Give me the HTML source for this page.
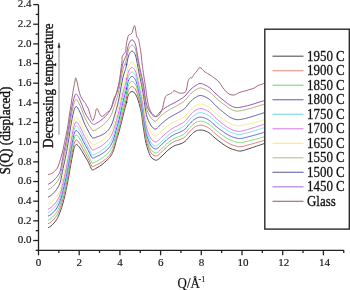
<!DOCTYPE html>
<html><head><meta charset="utf-8"><style>
html,body{margin:0;padding:0;background:#fff;width:350px;height:290px;overflow:hidden}
svg{display:block;filter:blur(0.3px)}
</style></head><body>
<svg width="350" height="290" viewBox="0 0 350 290">
<rect x="0" y="0" width="350" height="290" fill="#ffffff"/>
<g fill="none" stroke-linejoin="round" stroke-linecap="round">
<path d="M48.40,227.50 C48.83,227.25 50.07,226.75 51.00,226.00 C51.93,225.25 52.95,224.25 54.00,223.00 C55.05,221.75 56.22,220.50 57.30,218.50 C58.38,216.50 59.60,213.42 60.50,211.00 C61.40,208.58 61.97,206.58 62.70,204.00 C63.43,201.42 64.18,198.58 64.90,195.50 C65.62,192.42 66.32,188.92 67.00,185.50 C67.68,182.08 68.37,178.50 69.00,175.00 C69.63,171.50 70.20,167.83 70.80,164.50 C71.40,161.17 72.02,157.83 72.60,155.00 C73.18,152.17 73.65,149.25 74.30,147.50 C74.95,145.75 75.55,144.42 76.50,144.50 C77.45,144.58 78.92,146.58 80.00,148.00 C81.08,149.42 82.00,151.33 83.00,153.00 C84.00,154.67 85.08,156.42 86.00,158.00 C86.92,159.58 87.67,160.83 88.50,162.50 C89.33,164.17 90.33,166.75 91.00,168.00 C91.67,169.25 91.50,170.03 92.50,170.00 C93.50,169.97 95.42,168.70 97.00,167.80 C98.58,166.90 100.50,165.73 102.00,164.60 C103.50,163.47 104.72,162.20 106.00,161.00 C107.28,159.80 108.45,159.13 109.70,157.40 C110.95,155.67 112.40,153.42 113.50,150.60 C114.60,147.78 115.40,143.57 116.30,140.50 C117.20,137.43 118.05,135.20 118.90,132.20 C119.75,129.20 120.63,125.53 121.40,122.50 C122.17,119.47 122.87,116.50 123.50,114.00 C124.13,111.50 124.70,109.42 125.20,107.50 C125.70,105.58 126.03,104.42 126.50,102.50 C126.97,100.58 127.42,97.67 128.00,96.00 C128.58,94.33 129.33,93.25 130.00,92.50 C130.67,91.75 131.33,91.50 132.00,91.50 C132.67,91.50 133.33,91.92 134.00,92.50 C134.67,93.08 135.33,93.75 136.00,95.00 C136.67,96.25 137.33,98.00 138.00,100.00 C138.67,102.00 139.42,104.67 140.00,107.00 C140.58,109.33 141.00,111.00 141.50,114.00 C142.00,117.00 142.50,121.50 143.00,125.00 C143.50,128.50 144.00,132.00 144.50,135.00 C145.00,138.00 145.42,140.50 146.00,143.00 C146.58,145.50 147.17,147.67 148.00,150.00 C148.83,152.33 149.83,155.33 151.00,157.00 C152.17,158.67 153.83,159.58 155.00,160.00 C156.17,160.42 156.83,160.17 158.00,159.50 C159.17,158.83 160.67,157.25 162.00,156.00 C163.33,154.75 164.67,153.25 166.00,152.00 C167.33,150.75 168.50,149.58 170.00,148.50 C171.50,147.42 173.33,146.25 175.00,145.50 C176.67,144.75 178.33,144.67 180.00,144.00 C181.67,143.33 183.33,142.83 185.00,141.50 C186.67,140.17 188.33,137.67 190.00,136.00 C191.67,134.33 193.33,132.50 195.00,131.50 C196.67,130.50 198.33,130.12 200.00,130.00 C201.67,129.88 203.33,130.22 205.00,130.80 C206.67,131.38 208.33,132.30 210.00,133.50 C211.67,134.70 213.33,136.58 215.00,138.00 C216.67,139.42 218.33,140.75 220.00,142.00 C221.67,143.25 223.33,144.45 225.00,145.50 C226.67,146.55 228.33,147.55 230.00,148.30 C231.67,149.05 233.17,149.55 235.00,150.00 C236.83,150.45 238.33,151.33 241.00,151.00 C243.67,150.67 247.00,149.28 251.00,148.00 C255.00,146.72 262.67,144.08 265.00,143.30" stroke="#505050" stroke-width="1.0"/>
<path d="M48.4,223.5 L49.1,223.1 L49.8,222.8 L50.5,222.4 L51.2,221.8 L51.9,221.2 L52.6,220.6 L53.3,219.8 L54.0,219.1 L54.7,218.2 L55.4,217.4 L56.1,216.5 L56.8,215.5 L57.5,214.3 L58.2,212.9 L58.9,211.3 L59.6,209.6 L60.3,207.8 L61.0,205.8 L61.7,203.4 L62.4,200.9 L63.1,198.3 L63.8,195.7 L64.5,192.8 L65.2,189.8 L65.9,186.6 L66.6,183.1 L67.3,179.6 L68.0,175.9 L68.7,172.2 L69.4,168.2 L70.1,164.0 L70.8,159.9 L71.5,156.1 L72.2,152.4 L72.9,148.9 L73.6,145.5 L74.3,143.0 L75.0,141.3 L75.7,140.3 L76.4,140.0 L77.1,140.3 L77.8,140.9 L78.5,141.7 L79.2,142.7 L79.9,143.7 L80.6,144.7 L81.3,146.0 L82.0,147.3 L82.7,148.6 L83.4,149.9 L84.1,151.2 L84.8,152.4 L85.5,153.6 L86.2,154.9 L86.9,156.1 L87.6,157.4 L88.3,158.7 L89.0,160.2 L89.7,161.8 L90.4,163.3 L91.1,164.8 L91.8,166.3 L92.5,166.6 L93.2,166.4 L93.9,166.2 L94.6,165.9 L95.3,165.5 L96.0,165.1 L96.7,164.8 L97.4,164.4 L98.1,164.1 L98.8,163.7 L99.5,163.4 L100.2,163.0 L100.9,162.6 L101.6,162.2 L102.3,161.7 L103.0,161.2 L103.7,160.7 L104.4,160.1 L105.1,159.5 L105.8,158.8 L106.5,158.2 L107.2,157.7 L107.9,157.1 L108.6,156.4 L109.3,155.6 L110.0,154.6 L110.7,153.6 L111.4,152.4 L112.1,151.1 L112.8,149.7 L113.5,147.9 L114.2,145.8 L114.9,143.2 L115.6,140.3 L116.3,137.6 L117.0,135.3 L117.7,133.0 L118.4,130.7 L119.1,128.1 L119.8,125.3 L120.5,122.3 L121.2,119.4 L121.9,116.4 L122.6,113.4 L123.3,110.4 L124.0,107.7 L124.7,105.0 L125.4,102.4 L126.1,99.8 L126.8,96.7 L127.5,93.3 L128.2,90.8 L128.9,89.3 L129.6,88.2 L130.3,87.3 L131.0,86.8 L131.7,86.5 L132.4,86.5 L133.1,86.9 L133.8,87.4 L134.5,88.1 L135.2,88.9 L135.9,90.1 L136.6,91.8 L137.3,93.7 L138.0,95.9 L138.7,98.4 L139.4,101.0 L140.1,103.7 L140.8,106.7 L141.5,110.3 L142.2,115.0 L142.9,120.2 L143.6,125.0 L144.3,129.6 L145.0,133.9 L145.7,137.7 L146.4,140.7 L147.1,143.3 L147.8,145.4 L148.5,147.4 L149.2,149.2 L149.9,150.8 L150.6,152.2 L151.3,153.2 L152.0,154.0 L152.7,154.6 L153.4,155.1 L154.1,155.5 L154.8,155.8 L155.5,156.0 L156.2,156.0 L156.9,155.8 L157.6,155.4 L158.3,155.0 L159.0,154.4 L159.7,153.8 L160.4,153.1 L161.1,152.4 L161.8,151.8 L162.5,151.1 L163.2,150.4 L163.9,149.7 L164.6,149.0 L165.3,148.3 L166.0,147.7 L166.7,147.0 L167.4,146.4 L168.1,145.8 L168.8,145.2 L169.5,144.6 L170.2,144.1 L170.9,143.6 L171.6,143.2 L172.3,142.7 L173.0,142.3 L173.7,141.9 L174.4,141.6 L175.1,141.2 L175.8,140.9 L176.5,140.7 L177.2,140.5 L177.9,140.3 L178.6,140.1 L179.3,139.8 L180.0,139.6 L180.7,139.3 L181.4,139.0 L182.1,138.7 L182.8,138.3 L183.5,138.0 L184.2,137.5 L184.9,137.0 L185.6,136.4 L186.3,135.7 L187.0,134.8 L187.7,134.0 L188.4,133.1 L189.1,132.3 L189.8,131.5 L190.5,130.8 L191.2,130.1 L191.9,129.4 L192.6,128.8 L193.3,128.1 L194.0,127.5 L194.7,127.0 L195.4,126.6 L196.1,126.3 L196.8,126.0 L197.5,125.7 L198.2,125.5 L198.9,125.4 L199.6,125.3 L200.3,125.2 L201.0,125.2 L201.7,125.3 L202.4,125.4 L203.1,125.5 L203.8,125.7 L204.5,125.9 L205.2,126.2 L205.9,126.5 L206.6,126.8 L207.3,127.1 L208.0,127.5 L208.7,128.0 L209.4,128.4 L210.1,128.9 L210.8,129.5 L211.5,130.1 L212.2,130.8 L212.9,131.4 L213.6,132.1 L214.3,132.8 L215.0,133.4 L215.7,134.0 L216.4,134.6 L217.1,135.2 L217.8,135.8 L218.5,136.3 L219.2,136.9 L219.9,137.4 L220.6,137.9 L221.3,138.5 L222.0,139.0 L222.7,139.5 L223.4,140.0 L224.1,140.5 L224.8,140.9 L225.5,141.4 L226.2,141.8 L226.9,142.3 L227.6,142.7 L228.3,143.1 L229.0,143.5 L229.7,143.8 L230.4,144.2 L231.1,144.5 L231.8,144.7 L232.5,145.0 L233.2,145.2 L233.9,145.4 L234.6,145.6 L235.3,145.8 L236.0,146.0 L236.7,146.2 L237.4,146.4 L238.1,146.6 L238.8,146.7 L239.5,146.7 L240.2,146.7 L240.9,146.7 L241.6,146.6 L242.3,146.5 L243.0,146.3 L243.7,146.2 L244.4,146.0 L245.1,145.8 L245.8,145.6 L246.5,145.4 L247.2,145.2 L247.9,145.0 L248.6,144.8 L249.3,144.7 L250.0,144.5 L250.7,144.3 L251.4,144.1 L252.1,143.9 L252.8,143.7 L253.5,143.5 L254.2,143.3 L254.9,143.1 L255.6,142.9 L256.3,142.7 L257.0,142.5 L257.7,142.3 L258.4,142.1 L259.1,141.9 L259.8,141.7 L260.5,141.5 L261.2,141.2 L261.9,141.0 L262.6,140.8 L263.3,140.6 L264.0,140.3 L264.7,140.1" stroke="#e07070" stroke-width="1.0"/>
<path d="M48.4,220.0 L49.1,219.6 L49.8,219.3 L50.5,218.8 L51.2,218.3 L51.9,217.7 L52.6,217.0 L53.3,216.3 L54.0,215.5 L54.7,214.7 L55.4,213.8 L56.1,212.9 L56.8,211.9 L57.5,210.7 L58.2,209.3 L58.9,207.8 L59.6,206.1 L60.3,204.2 L61.0,202.1 L61.7,199.5 L62.4,196.8 L63.1,194.1 L63.8,191.3 L64.5,188.4 L65.2,185.3 L65.9,182.0 L66.6,178.6 L67.3,175.0 L68.0,171.2 L68.7,167.4 L69.4,163.3 L70.1,159.0 L70.8,154.9 L71.5,151.0 L72.2,147.3 L72.9,143.9 L73.6,140.5 L74.3,138.0 L75.0,136.3 L75.7,135.3 L76.4,135.0 L77.1,135.3 L77.8,136.0 L78.5,136.9 L79.2,138.0 L79.9,139.0 L80.6,140.2 L81.3,141.5 L82.0,143.0 L82.7,144.4 L83.4,145.8 L84.1,147.2 L84.8,148.6 L85.5,149.9 L86.2,151.2 L86.9,152.5 L87.6,153.8 L88.3,155.2 L89.0,156.7 L89.7,158.2 L90.4,159.8 L91.1,161.2 L91.8,162.7 L92.5,163.0 L93.2,163.0 L93.9,162.7 L94.6,162.4 L95.3,162.0 L96.0,161.6 L96.7,161.3 L97.4,160.9 L98.1,160.5 L98.8,160.2 L99.5,159.8 L100.2,159.4 L100.9,159.0 L101.6,158.5 L102.3,158.0 L103.0,157.5 L103.7,156.9 L104.4,156.3 L105.1,155.7 L105.8,155.0 L106.5,154.4 L107.2,153.8 L107.9,153.2 L108.6,152.5 L109.3,151.7 L110.0,150.7 L110.7,149.6 L111.4,148.4 L112.1,147.1 L112.8,145.6 L113.5,143.8 L114.2,141.6 L114.9,139.0 L115.6,136.2 L116.3,133.6 L117.0,131.2 L117.7,128.9 L118.4,126.5 L119.1,123.8 L119.8,120.8 L120.5,117.7 L121.2,114.6 L121.9,111.6 L122.6,108.5 L123.3,105.5 L124.0,102.9 L124.7,100.3 L125.4,97.7 L126.1,95.2 L126.8,92.1 L127.5,88.6 L128.2,86.1 L128.9,84.4 L129.6,83.3 L130.3,82.4 L131.0,81.8 L131.7,81.5 L132.4,81.5 L133.1,81.9 L133.8,82.4 L134.5,83.2 L135.2,84.1 L135.9,85.4 L136.6,87.4 L137.3,89.6 L138.0,92.0 L138.7,94.7 L139.4,97.5 L140.1,100.3 L140.8,103.3 L141.5,106.9 L142.2,111.5 L142.9,116.5 L143.6,121.3 L144.3,126.0 L145.0,130.5 L145.7,134.4 L146.4,137.5 L147.1,140.1 L147.8,142.3 L148.5,144.2 L149.2,146.1 L149.9,147.7 L150.6,149.1 L151.3,150.1 L152.0,150.9 L152.7,151.5 L153.4,152.0 L154.1,152.5 L154.8,152.8 L155.5,153.0 L156.2,153.0 L156.9,152.7 L157.6,152.3 L158.3,151.8 L159.0,151.2 L159.7,150.6 L160.4,149.9 L161.1,149.3 L161.8,148.6 L162.5,147.9 L163.2,147.3 L163.9,146.6 L164.6,145.9 L165.3,145.2 L166.0,144.5 L166.7,143.9 L167.4,143.2 L168.1,142.6 L168.8,142.0 L169.5,141.5 L170.2,141.0 L170.9,140.5 L171.6,140.0 L172.3,139.6 L173.0,139.1 L173.7,138.7 L174.4,138.4 L175.1,138.0 L175.8,137.7 L176.5,137.4 L177.2,137.2 L177.9,136.9 L178.6,136.7 L179.3,136.4 L180.0,136.1 L180.7,135.8 L181.4,135.5 L182.1,135.1 L182.8,134.8 L183.5,134.3 L184.2,133.9 L184.9,133.3 L185.6,132.7 L186.3,131.9 L187.0,131.1 L187.7,130.2 L188.4,129.3 L189.1,128.5 L189.8,127.7 L190.5,127.0 L191.2,126.3 L191.9,125.6 L192.6,124.9 L193.3,124.3 L194.0,123.7 L194.7,123.2 L195.4,122.7 L196.1,122.3 L196.8,122.0 L197.5,121.7 L198.2,121.5 L198.9,121.4 L199.6,121.3 L200.3,121.2 L201.0,121.2 L201.7,121.3 L202.4,121.4 L203.1,121.5 L203.8,121.7 L204.5,122.0 L205.2,122.2 L205.9,122.5 L206.6,122.8 L207.3,123.2 L208.0,123.6 L208.7,124.0 L209.4,124.4 L210.1,124.9 L210.8,125.5 L211.5,126.1 L212.2,126.8 L212.9,127.4 L213.6,128.1 L214.3,128.8 L215.0,129.4 L215.7,130.0 L216.4,130.6 L217.1,131.2 L217.8,131.7 L218.5,132.3 L219.2,132.9 L219.9,133.4 L220.6,133.9 L221.3,134.4 L222.0,135.0 L222.7,135.5 L223.4,135.9 L224.1,136.4 L224.8,136.9 L225.5,137.3 L226.2,137.8 L226.9,138.2 L227.6,138.7 L228.3,139.1 L229.0,139.5 L229.7,139.8 L230.4,140.1 L231.1,140.4 L231.8,140.7 L232.5,141.0 L233.2,141.2 L233.9,141.4 L234.6,141.6 L235.3,141.8 L236.0,142.0 L236.7,142.2 L237.4,142.4 L238.1,142.5 L238.8,142.6 L239.5,142.6 L240.2,142.6 L240.9,142.6 L241.6,142.5 L242.3,142.4 L243.0,142.3 L243.7,142.2 L244.4,142.0 L245.1,141.8 L245.8,141.7 L246.5,141.5 L247.2,141.3 L247.9,141.2 L248.6,141.0 L249.3,140.8 L250.0,140.6 L250.7,140.5 L251.4,140.3 L252.1,140.2 L252.8,140.0 L253.5,139.8 L254.2,139.6 L254.9,139.5 L255.6,139.3 L256.3,139.1 L257.0,138.9 L257.7,138.7 L258.4,138.5 L259.1,138.3 L259.8,138.1 L260.5,137.9 L261.2,137.7 L261.9,137.5 L262.6,137.3 L263.3,137.1 L264.0,136.8 L264.7,136.6" stroke="#70dc70" stroke-width="1.0"/>
<path d="M48.4,216.0 L49.1,215.6 L49.8,215.3 L50.5,214.8 L51.2,214.3 L51.9,213.7 L52.6,213.1 L53.3,212.3 L54.0,211.6 L54.7,210.8 L55.4,209.9 L56.1,209.0 L56.8,208.0 L57.5,206.9 L58.2,205.5 L58.9,204.0 L59.6,202.4 L60.3,200.5 L61.0,198.3 L61.7,195.5 L62.4,192.7 L63.1,189.9 L63.8,187.0 L64.5,184.0 L65.2,180.9 L65.9,177.7 L66.6,174.2 L67.3,170.5 L68.0,166.8 L68.7,162.9 L69.4,158.8 L70.1,154.5 L70.8,150.3 L71.5,146.4 L72.2,142.7 L72.9,139.3 L73.6,136.0 L74.3,133.5 L75.0,131.8 L75.7,130.7 L76.4,130.5 L77.1,130.9 L77.8,131.6 L78.5,132.5 L79.2,133.6 L79.9,134.7 L80.6,135.9 L81.3,137.2 L82.0,138.6 L82.7,140.1 L83.4,141.5 L84.1,142.9 L84.8,144.2 L85.5,145.5 L86.2,146.8 L86.9,148.0 L87.6,149.3 L88.3,150.6 L89.0,152.0 L89.7,153.4 L90.4,154.9 L91.1,156.2 L91.8,157.6 L92.5,158.0 L93.2,158.0 L93.9,157.8 L94.6,157.5 L95.3,157.1 L96.0,156.8 L96.7,156.5 L97.4,156.1 L98.1,155.8 L98.8,155.5 L99.5,155.2 L100.2,154.8 L100.9,154.4 L101.6,154.0 L102.3,153.6 L103.0,153.1 L103.7,152.6 L104.4,152.1 L105.1,151.5 L105.8,150.9 L106.5,150.2 L107.2,149.7 L107.9,149.0 L108.6,148.3 L109.3,147.4 L110.0,146.4 L110.7,145.3 L111.4,144.1 L112.1,142.8 L112.8,141.2 L113.5,139.3 L114.2,137.1 L114.9,134.6 L115.6,131.9 L116.3,129.3 L117.0,126.9 L117.7,124.5 L118.4,122.0 L119.1,119.2 L119.8,116.1 L120.5,113.0 L121.2,109.8 L121.9,106.6 L122.6,103.4 L123.3,100.5 L124.0,97.9 L124.7,95.4 L125.4,93.0 L126.1,90.6 L126.8,87.4 L127.5,83.9 L128.2,81.3 L128.9,79.6 L129.6,78.4 L130.3,77.5 L131.0,76.9 L131.7,76.5 L132.4,76.5 L133.1,76.9 L133.8,77.5 L134.5,78.3 L135.2,79.3 L135.9,80.7 L136.6,82.9 L137.3,85.3 L138.0,88.0 L138.7,90.9 L139.4,93.8 L140.1,96.6 L140.8,99.6 L141.5,103.2 L142.2,107.6 L142.9,112.5 L143.6,117.2 L144.3,121.9 L145.0,126.6 L145.7,130.5 L146.4,133.7 L147.1,136.3 L147.8,138.5 L148.5,140.3 L149.2,142.1 L149.9,143.7 L150.6,145.1 L151.3,146.1 L152.0,146.9 L152.7,147.5 L153.4,148.1 L154.1,148.5 L154.8,148.8 L155.5,149.0 L156.2,149.0 L156.9,148.7 L157.6,148.2 L158.3,147.7 L159.0,147.1 L159.7,146.4 L160.4,145.7 L161.1,145.1 L161.8,144.4 L162.5,143.8 L163.2,143.1 L163.9,142.4 L164.6,141.8 L165.3,141.1 L166.0,140.5 L166.7,139.8 L167.4,139.2 L168.1,138.6 L168.8,138.1 L169.5,137.5 L170.2,137.0 L170.9,136.6 L171.6,136.1 L172.3,135.7 L173.0,135.3 L173.7,134.9 L174.4,134.5 L175.1,134.1 L175.8,133.8 L176.5,133.5 L177.2,133.3 L177.9,133.0 L178.6,132.7 L179.3,132.5 L180.0,132.1 L180.7,131.8 L181.4,131.5 L182.1,131.1 L182.8,130.8 L183.5,130.3 L184.2,129.9 L184.9,129.3 L185.6,128.7 L186.3,127.9 L187.0,127.1 L187.7,126.2 L188.4,125.3 L189.1,124.5 L189.8,123.7 L190.5,123.0 L191.2,122.2 L191.9,121.6 L192.6,120.9 L193.3,120.3 L194.0,119.7 L194.7,119.2 L195.4,118.8 L196.1,118.4 L196.8,118.0 L197.5,117.7 L198.2,117.5 L198.9,117.3 L199.6,117.2 L200.3,117.2 L201.0,117.2 L201.7,117.2 L202.4,117.4 L203.1,117.5 L203.8,117.7 L204.5,118.0 L205.2,118.2 L205.9,118.5 L206.6,118.8 L207.3,119.2 L208.0,119.6 L208.7,120.0 L209.4,120.5 L210.1,121.0 L210.8,121.5 L211.5,122.1 L212.2,122.8 L212.9,123.5 L213.6,124.1 L214.3,124.8 L215.0,125.4 L215.7,126.0 L216.4,126.6 L217.1,127.2 L217.8,127.7 L218.5,128.3 L219.2,128.8 L219.9,129.4 L220.6,129.9 L221.3,130.4 L222.0,130.9 L222.7,131.4 L223.4,131.9 L224.1,132.4 L224.8,132.8 L225.5,133.3 L226.2,133.7 L226.9,134.2 L227.6,134.6 L228.3,135.0 L229.0,135.4 L229.7,135.8 L230.4,136.1 L231.1,136.4 L231.8,136.7 L232.5,137.0 L233.2,137.2 L233.9,137.5 L234.6,137.7 L235.3,137.8 L236.0,138.0 L236.7,138.2 L237.4,138.3 L238.1,138.4 L238.8,138.5 L239.5,138.5 L240.2,138.5 L240.9,138.5 L241.6,138.4 L242.3,138.3 L243.0,138.1 L243.7,138.0 L244.4,137.8 L245.1,137.6 L245.8,137.5 L246.5,137.3 L247.2,137.1 L247.9,136.9 L248.6,136.7 L249.3,136.5 L250.0,136.4 L250.7,136.2 L251.4,136.0 L252.1,135.8 L252.8,135.6 L253.5,135.4 L254.2,135.2 L254.9,135.1 L255.6,134.9 L256.3,134.7 L257.0,134.4 L257.7,134.2 L258.4,134.0 L259.1,133.8 L259.8,133.6 L260.5,133.4 L261.2,133.2 L261.9,133.0 L262.6,132.8 L263.3,132.5 L264.0,132.3 L264.7,132.1" stroke="#5a5ae0" stroke-width="1.0"/>
<path d="M48.4,212.5 L49.1,212.1 L49.8,211.7 L50.5,211.3 L51.2,210.8 L51.9,210.2 L52.6,209.6 L53.3,208.8 L54.0,208.1 L54.7,207.3 L55.4,206.4 L56.1,205.5 L56.8,204.5 L57.5,203.4 L58.2,202.1 L58.9,200.6 L59.6,199.0 L60.3,197.1 L61.0,194.7 L61.7,191.8 L62.4,188.8 L63.1,185.9 L63.8,182.9 L64.5,179.9 L65.2,176.8 L65.9,173.5 L66.6,170.0 L67.3,166.3 L68.0,162.5 L68.7,158.5 L69.4,154.3 L70.1,150.0 L70.8,145.8 L71.5,141.9 L72.2,138.1 L72.9,134.7 L73.6,131.5 L74.3,129.0 L75.0,127.2 L75.7,126.2 L76.4,126.0 L77.1,126.4 L77.8,127.2 L78.5,128.2 L79.2,129.3 L79.9,130.5 L80.6,131.8 L81.3,133.2 L82.0,134.7 L82.7,136.3 L83.4,137.9 L84.1,139.4 L84.8,140.9 L85.5,142.2 L86.2,143.5 L86.9,144.8 L87.6,146.2 L88.3,147.5 L89.0,148.9 L89.7,150.4 L90.4,151.9 L91.1,153.2 L91.8,154.5 L92.5,154.9 L93.2,155.0 L93.9,154.8 L94.6,154.5 L95.3,154.1 L96.0,153.8 L96.7,153.4 L97.4,153.0 L98.1,152.7 L98.8,152.3 L99.5,151.9 L100.2,151.5 L100.9,151.1 L101.6,150.6 L102.3,150.1 L103.0,149.6 L103.7,149.1 L104.4,148.5 L105.1,147.8 L105.8,147.2 L106.5,146.5 L107.2,145.9 L107.9,145.3 L108.6,144.5 L109.3,143.6 L110.0,142.6 L110.7,141.5 L111.4,140.3 L112.1,138.8 L112.8,137.2 L113.5,135.3 L114.2,133.1 L114.9,130.6 L115.6,127.9 L116.3,125.4 L117.0,123.0 L117.7,120.6 L118.4,118.1 L119.1,115.1 L119.8,111.9 L120.5,108.7 L121.2,105.4 L121.9,102.1 L122.6,98.9 L123.3,96.0 L124.0,93.5 L124.7,91.1 L125.4,88.7 L126.1,86.4 L126.8,83.2 L127.5,79.7 L128.2,77.0 L128.9,75.2 L129.6,74.0 L130.3,73.0 L131.0,72.4 L131.7,72.0 L132.4,72.0 L133.1,72.4 L133.8,73.1 L134.5,73.9 L135.2,74.9 L135.9,76.5 L136.6,78.9 L137.3,81.6 L138.0,84.4 L138.7,87.5 L139.4,90.6 L140.1,93.5 L140.8,96.5 L141.5,100.0 L142.2,104.4 L142.9,109.1 L143.6,113.8 L144.3,118.5 L145.0,123.4 L145.7,127.4 L146.4,130.7 L147.1,133.3 L147.8,135.4 L148.5,137.3 L149.2,139.0 L149.9,140.6 L150.6,142.0 L151.3,143.0 L152.0,143.9 L152.7,144.5 L153.4,145.1 L154.1,145.5 L154.8,145.8 L155.5,146.0 L156.2,146.0 L156.9,145.6 L157.6,145.2 L158.3,144.6 L159.0,143.9 L159.7,143.2 L160.4,142.6 L161.1,141.9 L161.8,141.2 L162.5,140.6 L163.2,139.9 L163.9,139.2 L164.6,138.5 L165.3,137.9 L166.0,137.2 L166.7,136.6 L167.4,136.0 L168.1,135.4 L168.8,134.8 L169.5,134.3 L170.2,133.8 L170.9,133.3 L171.6,132.8 L172.3,132.4 L173.0,132.0 L173.7,131.5 L174.4,131.1 L175.1,130.7 L175.8,130.4 L176.5,130.1 L177.2,129.7 L177.9,129.4 L178.6,129.1 L179.3,128.8 L180.0,128.4 L180.7,128.0 L181.4,127.7 L182.1,127.3 L182.8,126.9 L183.5,126.4 L184.2,125.9 L184.9,125.3 L185.6,124.6 L186.3,123.8 L187.0,122.9 L187.7,122.0 L188.4,121.1 L189.1,120.2 L189.8,119.4 L190.5,118.7 L191.2,118.0 L191.9,117.3 L192.6,116.6 L193.3,116.0 L194.0,115.4 L194.7,114.9 L195.4,114.4 L196.1,114.0 L196.8,113.6 L197.5,113.3 L198.2,113.0 L198.9,112.8 L199.6,112.7 L200.3,112.6 L201.0,112.6 L201.7,112.7 L202.4,112.8 L203.1,113.0 L203.8,113.3 L204.5,113.5 L205.2,113.8 L205.9,114.1 L206.6,114.4 L207.3,114.7 L208.0,115.1 L208.7,115.6 L209.4,116.0 L210.1,116.5 L210.8,117.1 L211.5,117.7 L212.2,118.4 L212.9,119.1 L213.6,119.8 L214.3,120.5 L215.0,121.1 L215.7,121.7 L216.4,122.3 L217.1,122.9 L217.8,123.5 L218.5,124.0 L219.2,124.6 L219.9,125.1 L220.6,125.7 L221.3,126.2 L222.0,126.7 L222.7,127.2 L223.4,127.7 L224.1,128.2 L224.8,128.7 L225.5,129.1 L226.2,129.6 L226.9,130.1 L227.6,130.5 L228.3,131.0 L229.0,131.4 L229.7,131.7 L230.4,132.1 L231.1,132.4 L231.8,132.7 L232.5,133.0 L233.2,133.2 L233.9,133.5 L234.6,133.7 L235.3,133.8 L236.0,134.0 L236.7,134.2 L237.4,134.3 L238.1,134.4 L238.8,134.4 L239.5,134.4 L240.2,134.4 L240.9,134.3 L241.6,134.2 L242.3,134.1 L243.0,133.9 L243.7,133.8 L244.4,133.6 L245.1,133.4 L245.8,133.2 L246.5,133.1 L247.2,132.9 L247.9,132.7 L248.6,132.5 L249.3,132.3 L250.0,132.1 L250.7,131.9 L251.4,131.7 L252.1,131.5 L252.8,131.3 L253.5,131.1 L254.2,130.9 L254.9,130.6 L255.6,130.4 L256.3,130.2 L257.0,130.0 L257.7,129.8 L258.4,129.6 L259.1,129.4 L259.8,129.1 L260.5,128.9 L261.2,128.7 L261.9,128.5 L262.6,128.3 L263.3,128.0 L264.0,127.8 L264.7,127.6" stroke="#78e0ee" stroke-width="1.0"/>
<path d="M48.4,209.0 L49.1,208.6 L49.8,208.2 L50.5,207.8 L51.2,207.3 L51.9,206.7 L52.6,206.1 L53.3,205.4 L54.0,204.6 L54.7,203.8 L55.4,203.0 L56.1,202.1 L56.8,201.1 L57.5,200.0 L58.2,198.8 L58.9,197.3 L59.6,195.7 L60.3,193.8 L61.0,191.4 L61.7,188.3 L62.4,185.1 L63.1,182.2 L63.8,179.1 L64.5,176.0 L65.2,172.9 L65.9,169.6 L66.6,166.1 L67.3,162.4 L68.0,158.5 L68.7,154.5 L69.4,150.3 L70.1,145.9 L70.8,141.7 L71.5,137.8 L72.2,134.1 L72.9,130.6 L73.6,127.4 L74.3,125.0 L75.0,123.2 L75.7,122.2 L76.4,122.0 L77.1,122.4 L77.8,123.2 L78.5,124.3 L79.2,125.4 L79.9,126.6 L80.6,127.9 L81.3,129.2 L82.0,130.7 L82.7,132.3 L83.4,133.9 L84.1,135.4 L84.8,136.7 L85.5,138.0 L86.2,139.3 L86.9,140.5 L87.6,141.7 L88.3,143.0 L89.0,144.3 L89.7,145.6 L90.4,147.0 L91.1,148.2 L91.8,149.5 L92.5,149.9 L93.2,150.0 L93.9,149.9 L94.6,149.6 L95.3,149.2 L96.0,148.9 L96.7,148.5 L97.4,148.2 L98.1,147.8 L98.8,147.5 L99.5,147.1 L100.2,146.7 L100.9,146.3 L101.6,145.8 L102.3,145.4 L103.0,144.8 L103.7,144.3 L104.4,143.7 L105.1,143.1 L105.8,142.5 L106.5,141.8 L107.2,141.2 L107.9,140.5 L108.6,139.7 L109.3,138.8 L110.0,137.8 L110.7,136.6 L111.4,135.4 L112.1,134.0 L112.8,132.3 L113.5,130.3 L114.2,128.1 L114.9,125.7 L115.6,123.2 L116.3,120.8 L117.0,118.4 L117.7,116.0 L118.4,113.4 L119.1,110.4 L119.8,107.1 L120.5,103.8 L121.2,100.5 L121.9,97.2 L122.6,94.0 L123.3,91.2 L124.0,88.8 L124.7,86.5 L125.4,84.3 L126.1,82.1 L126.8,78.9 L127.5,75.3 L128.2,72.6 L128.9,70.8 L129.6,69.6 L130.3,68.6 L131.0,67.9 L131.7,67.6 L132.4,67.5 L133.1,67.9 L133.8,68.6 L134.5,69.5 L135.2,70.6 L135.9,72.3 L136.6,74.9 L137.3,77.7 L138.0,80.8 L138.7,84.0 L139.4,87.2 L140.1,90.1 L140.8,93.2 L141.5,96.6 L142.2,100.7 L142.9,105.3 L143.6,109.9 L144.3,114.7 L145.0,119.6 L145.7,123.7 L146.4,127.0 L147.1,129.6 L147.8,131.7 L148.5,133.5 L149.2,135.2 L149.9,136.7 L150.6,138.0 L151.3,139.1 L152.0,139.9 L152.7,140.5 L153.4,141.1 L154.1,141.5 L154.8,141.9 L155.5,142.0 L156.2,141.9 L156.9,141.6 L157.6,141.1 L158.3,140.4 L159.0,139.7 L159.7,139.0 L160.4,138.4 L161.1,137.7 L161.8,137.1 L162.5,136.4 L163.2,135.8 L163.9,135.1 L164.6,134.4 L165.3,133.8 L166.0,133.2 L166.7,132.6 L167.4,132.0 L168.1,131.4 L168.8,130.9 L169.5,130.4 L170.2,129.9 L170.9,129.4 L171.6,128.9 L172.3,128.5 L173.0,128.1 L173.7,127.7 L174.4,127.3 L175.1,126.9 L175.8,126.5 L176.5,126.2 L177.2,125.8 L177.9,125.5 L178.6,125.2 L179.3,124.8 L180.0,124.5 L180.7,124.1 L181.4,123.7 L182.1,123.3 L182.8,122.9 L183.5,122.4 L184.2,121.9 L184.9,121.3 L185.6,120.6 L186.3,119.8 L187.0,118.9 L187.7,118.0 L188.4,117.1 L189.1,116.2 L189.8,115.4 L190.5,114.7 L191.2,113.9 L191.9,113.3 L192.6,112.6 L193.3,112.0 L194.0,111.4 L194.7,110.9 L195.4,110.4 L196.1,110.0 L196.8,109.6 L197.5,109.3 L198.2,109.0 L198.9,108.8 L199.6,108.7 L200.3,108.6 L201.0,108.6 L201.7,108.7 L202.4,108.8 L203.1,109.0 L203.8,109.3 L204.5,109.5 L205.2,109.8 L205.9,110.1 L206.6,110.4 L207.3,110.8 L208.0,111.2 L208.7,111.7 L209.4,112.2 L210.1,112.7 L210.8,113.3 L211.5,113.9 L212.2,114.6 L212.9,115.3 L213.6,116.0 L214.3,116.7 L215.0,117.4 L215.7,118.0 L216.4,118.7 L217.1,119.3 L217.8,119.9 L218.5,120.5 L219.2,121.1 L219.9,121.6 L220.6,122.2 L221.3,122.8 L222.0,123.3 L222.7,123.8 L223.4,124.4 L224.1,124.9 L224.8,125.4 L225.5,125.9 L226.2,126.4 L226.9,126.9 L227.6,127.4 L228.3,127.8 L229.0,128.2 L229.7,128.6 L230.4,129.0 L231.1,129.4 L231.8,129.7 L232.5,130.0 L233.2,130.2 L233.9,130.5 L234.6,130.7 L235.3,130.8 L236.0,131.0 L236.7,131.1 L237.4,131.3 L238.1,131.3 L238.8,131.4 L239.5,131.3 L240.2,131.3 L240.9,131.2 L241.6,131.1 L242.3,131.0 L243.0,130.8 L243.7,130.6 L244.4,130.4 L245.1,130.2 L245.8,130.0 L246.5,129.8 L247.2,129.6 L247.9,129.4 L248.6,129.2 L249.3,129.0 L250.0,128.8 L250.7,128.6 L251.4,128.4 L252.1,128.2 L252.8,127.9 L253.5,127.7 L254.2,127.5 L254.9,127.3 L255.6,127.0 L256.3,126.8 L257.0,126.6 L257.7,126.3 L258.4,126.1 L259.1,125.9 L259.8,125.7 L260.5,125.4 L261.2,125.2 L261.9,125.0 L262.6,124.8 L263.3,124.5 L264.0,124.3 L264.7,124.1" stroke="#e070ee" stroke-width="1.0"/>
<path d="M48.4,204.0 L49.1,203.6 L49.8,203.2 L50.5,202.8 L51.2,202.3 L51.9,201.8 L52.6,201.2 L53.3,200.5 L54.0,199.7 L54.7,198.9 L55.4,198.1 L56.1,197.3 L56.8,196.4 L57.5,195.4 L58.2,194.2 L58.9,192.8 L59.6,191.2 L60.3,189.3 L61.0,186.8 L61.7,183.5 L62.4,180.3 L63.1,177.2 L63.8,174.1 L64.5,171.0 L65.2,167.8 L65.9,164.6 L66.6,161.0 L67.3,157.3 L68.0,153.5 L68.7,149.5 L69.4,145.2 L70.1,140.7 L70.8,136.5 L71.5,132.6 L72.2,128.9 L72.9,125.5 L73.6,122.4 L74.3,120.0 L75.0,118.2 L75.7,117.2 L76.4,117.0 L77.1,117.5 L77.8,118.3 L78.5,119.4 L79.2,120.6 L79.9,121.8 L80.6,123.1 L81.3,124.5 L82.0,126.0 L82.7,127.6 L83.4,129.2 L84.1,130.8 L84.8,132.2 L85.5,133.5 L86.2,134.7 L86.9,135.9 L87.6,137.1 L88.3,138.3 L89.0,139.5 L89.7,140.8 L90.4,142.1 L91.1,143.2 L91.8,144.4 L92.5,144.9 L93.2,145.0 L93.9,144.9 L94.6,144.7 L95.3,144.3 L96.0,143.9 L96.7,143.6 L97.4,143.3 L98.1,142.9 L98.8,142.6 L99.5,142.2 L100.2,141.8 L100.9,141.4 L101.6,141.0 L102.3,140.5 L103.0,140.0 L103.7,139.5 L104.4,138.9 L105.1,138.3 L105.8,137.6 L106.5,137.0 L107.2,136.3 L107.9,135.6 L108.6,134.8 L109.3,133.9 L110.0,132.8 L110.7,131.7 L111.4,130.4 L112.1,128.9 L112.8,127.2 L113.5,125.2 L114.2,123.0 L114.9,120.6 L115.6,118.2 L116.3,115.8 L117.0,113.5 L117.7,111.1 L118.4,108.4 L119.1,105.3 L119.8,101.9 L120.5,98.4 L121.2,95.0 L121.9,91.6 L122.6,88.4 L123.3,85.6 L124.0,83.3 L124.7,81.1 L125.4,79.0 L126.1,77.0 L126.8,73.8 L127.5,70.1 L128.2,67.3 L128.9,65.5 L129.6,64.2 L130.3,63.2 L131.0,62.5 L131.7,62.1 L132.4,62.0 L133.1,62.4 L133.8,63.1 L134.5,64.0 L135.2,65.2 L135.9,67.0 L136.6,69.8 L137.3,72.8 L138.0,76.1 L138.7,79.5 L139.4,82.8 L140.1,85.8 L140.8,88.8 L141.5,92.1 L142.2,95.9 L142.9,100.2 L143.6,104.6 L144.3,109.3 L145.0,114.4 L145.7,118.5 L146.4,121.9 L147.1,124.4 L147.8,126.3 L148.5,128.0 L149.2,129.6 L149.9,131.0 L150.6,132.2 L151.3,133.2 L152.0,134.0 L152.7,134.6 L153.4,135.2 L154.1,135.6 L154.8,135.9 L155.5,136.1 L156.2,135.9 L156.9,135.5 L157.6,134.9 L158.3,134.2 L159.0,133.5 L159.7,132.8 L160.4,132.1 L161.1,131.5 L161.8,130.8 L162.5,130.2 L163.2,129.6 L163.9,129.0 L164.6,128.4 L165.3,127.8 L166.0,127.2 L166.7,126.7 L167.4,126.2 L168.1,125.7 L168.8,125.2 L169.5,124.7 L170.2,124.2 L170.9,123.8 L171.6,123.4 L172.3,123.0 L173.0,122.7 L173.7,122.3 L174.4,121.9 L175.1,121.6 L175.8,121.2 L176.5,120.9 L177.2,120.6 L177.9,120.3 L178.6,120.0 L179.3,119.6 L180.0,119.3 L180.7,118.9 L181.4,118.5 L182.1,118.2 L182.8,117.8 L183.5,117.3 L184.2,116.8 L184.9,116.3 L185.6,115.6 L186.3,114.8 L187.0,114.0 L187.7,113.1 L188.4,112.2 L189.1,111.4 L189.8,110.6 L190.5,109.9 L191.2,109.2 L191.9,108.6 L192.6,107.9 L193.3,107.4 L194.0,106.8 L194.7,106.3 L195.4,105.9 L196.1,105.5 L196.8,105.1 L197.5,104.8 L198.2,104.5 L198.9,104.3 L199.6,104.1 L200.3,104.0 L201.0,104.1 L201.7,104.2 L202.4,104.3 L203.1,104.5 L203.8,104.8 L204.5,105.0 L205.2,105.3 L205.9,105.6 L206.6,105.9 L207.3,106.3 L208.0,106.7 L208.7,107.1 L209.4,107.6 L210.1,108.1 L210.8,108.6 L211.5,109.3 L212.2,109.9 L212.9,110.6 L213.6,111.3 L214.3,112.0 L215.0,112.6 L215.7,113.2 L216.4,113.8 L217.1,114.4 L217.8,114.9 L218.5,115.5 L219.2,116.0 L219.9,116.6 L220.6,117.1 L221.3,117.6 L222.0,118.1 L222.7,118.6 L223.4,119.1 L224.1,119.6 L224.8,120.1 L225.5,120.6 L226.2,121.0 L226.9,121.5 L227.6,122.0 L228.3,122.4 L229.0,122.8 L229.7,123.2 L230.4,123.6 L231.1,123.9 L231.8,124.2 L232.5,124.5 L233.2,124.8 L233.9,125.0 L234.6,125.2 L235.3,125.3 L236.0,125.5 L236.7,125.6 L237.4,125.7 L238.1,125.8 L238.8,125.8 L239.5,125.8 L240.2,125.7 L240.9,125.6 L241.6,125.5 L242.3,125.4 L243.0,125.3 L243.7,125.1 L244.4,125.0 L245.1,124.8 L245.8,124.7 L246.5,124.5 L247.2,124.4 L247.9,124.2 L248.6,124.0 L249.3,123.9 L250.0,123.7 L250.7,123.5 L251.4,123.4 L252.1,123.2 L252.8,123.0 L253.5,122.8 L254.2,122.6 L254.9,122.4 L255.6,122.2 L256.3,122.1 L257.0,121.9 L257.7,121.7 L258.4,121.5 L259.1,121.3 L259.8,121.1 L260.5,120.9 L261.2,120.7 L261.9,120.4 L262.6,120.2 L263.3,120.0 L264.0,119.8 L264.7,119.6" stroke="#f2ee80" stroke-width="1.0"/>
<path d="M48.4,197.0 L49.1,196.6 L49.8,196.2 L50.5,195.8 L51.2,195.3 L51.9,194.7 L52.6,194.1 L53.3,193.4 L54.0,192.6 L54.7,191.8 L55.4,190.9 L56.1,190.1 L56.8,189.2 L57.5,188.1 L58.2,186.9 L58.9,185.5 L59.6,184.0 L60.3,182.0 L61.0,179.2 L61.7,175.5 L62.4,171.8 L63.1,168.5 L63.8,165.1 L64.5,161.8 L65.2,158.5 L65.9,155.2 L66.6,151.6 L67.3,147.7 L68.0,143.7 L68.7,139.5 L69.4,135.0 L70.1,130.4 L70.8,126.1 L71.5,122.1 L72.2,118.3 L72.9,114.9 L73.6,111.9 L74.3,109.5 L75.0,107.7 L75.7,106.6 L76.4,106.5 L77.1,107.1 L77.8,108.1 L78.5,109.3 L79.2,110.6 L79.9,112.1 L80.6,113.6 L81.3,115.3 L82.0,117.0 L82.7,118.9 L83.4,120.8 L84.1,122.7 L84.8,124.3 L85.5,125.8 L86.2,127.2 L86.9,128.5 L87.6,129.8 L88.3,131.1 L89.0,132.4 L89.7,133.7 L90.4,135.0 L91.1,136.1 L91.8,137.2 L92.5,137.8 L93.2,138.0 L93.9,138.0 L94.6,137.8 L95.3,137.5 L96.0,137.2 L96.7,137.0 L97.4,136.7 L98.1,136.5 L98.8,136.3 L99.5,136.0 L100.2,135.8 L100.9,135.5 L101.6,135.2 L102.3,134.8 L103.0,134.4 L103.7,134.0 L104.4,133.6 L105.1,133.0 L105.8,132.5 L106.5,131.9 L107.2,131.3 L107.9,130.6 L108.6,129.7 L109.3,128.7 L110.0,127.6 L110.7,126.4 L111.4,125.0 L112.1,123.4 L112.8,121.5 L113.5,119.3 L114.2,116.9 L114.9,114.5 L115.6,112.0 L116.3,109.5 L117.0,107.0 L117.7,104.3 L118.4,101.3 L119.1,97.9 L119.8,94.0 L120.5,90.1 L121.2,86.3 L121.9,82.6 L122.6,79.0 L123.3,76.0 L124.0,73.6 L124.7,71.5 L125.4,69.5 L126.1,67.4 L126.8,64.0 L127.5,60.1 L128.2,57.1 L128.9,55.0 L129.6,53.6 L130.3,52.4 L131.0,51.6 L131.7,51.1 L132.4,51.1 L133.1,51.5 L133.8,52.3 L134.5,53.3 L135.2,54.6 L135.9,56.7 L136.6,60.1 L137.3,63.6 L138.0,67.4 L138.7,71.4 L139.4,75.0 L140.1,78.2 L140.8,81.2 L141.5,84.5 L142.2,88.1 L142.9,92.1 L143.6,96.4 L144.3,101.3 L145.0,106.7 L145.7,111.1 L146.4,114.6 L147.1,117.2 L147.8,119.1 L148.5,120.8 L149.2,122.3 L149.9,123.7 L150.6,125.0 L151.3,126.0 L152.0,126.9 L152.7,127.6 L153.4,128.1 L154.1,128.7 L154.8,129.0 L155.5,129.1 L156.2,128.9 L156.9,128.4 L157.6,127.7 L158.3,127.0 L159.0,126.2 L159.7,125.4 L160.4,124.7 L161.1,124.1 L161.8,123.5 L162.5,122.9 L163.2,122.3 L163.9,121.7 L164.6,121.1 L165.3,120.5 L166.0,120.0 L166.7,119.4 L167.4,118.9 L168.1,118.4 L168.8,118.0 L169.5,117.5 L170.2,117.1 L170.9,116.6 L171.6,116.2 L172.3,115.9 L173.0,115.5 L173.7,115.1 L174.4,114.7 L175.1,114.3 L175.8,113.9 L176.5,113.6 L177.2,113.2 L177.9,112.8 L178.6,112.4 L179.3,112.0 L180.0,111.6 L180.7,111.2 L181.4,110.7 L182.1,110.3 L182.8,109.9 L183.5,109.4 L184.2,108.9 L184.9,108.2 L185.6,107.5 L186.3,106.7 L187.0,105.8 L187.7,104.9 L188.4,104.0 L189.1,103.1 L189.8,102.3 L190.5,101.6 L191.2,100.9 L191.9,100.3 L192.6,99.6 L193.3,99.1 L194.0,98.5 L194.7,98.0 L195.4,97.6 L196.1,97.1 L196.8,96.7 L197.5,96.3 L198.2,96.0 L198.9,95.7 L199.6,95.6 L200.3,95.5 L201.0,95.5 L201.7,95.6 L202.4,95.8 L203.1,96.0 L203.8,96.3 L204.5,96.6 L205.2,96.9 L205.9,97.2 L206.6,97.6 L207.3,98.0 L208.0,98.4 L208.7,98.9 L209.4,99.4 L210.1,99.9 L210.8,100.5 L211.5,101.2 L212.2,101.9 L212.9,102.7 L213.6,103.4 L214.3,104.2 L215.0,104.9 L215.7,105.6 L216.4,106.2 L217.1,106.9 L217.8,107.5 L218.5,108.2 L219.2,108.8 L219.9,109.4 L220.6,110.0 L221.3,110.6 L222.0,111.2 L222.7,111.7 L223.4,112.3 L224.1,112.9 L224.8,113.4 L225.5,113.9 L226.2,114.5 L226.9,115.0 L227.6,115.6 L228.3,116.1 L229.0,116.5 L229.7,117.0 L230.4,117.4 L231.1,117.8 L231.8,118.1 L232.5,118.4 L233.2,118.7 L233.9,119.0 L234.6,119.2 L235.3,119.4 L236.0,119.5 L236.7,119.6 L237.4,119.7 L238.1,119.7 L238.8,119.6 L239.5,119.6 L240.2,119.5 L240.9,119.4 L241.6,119.3 L242.3,119.1 L243.0,119.0 L243.7,118.8 L244.4,118.7 L245.1,118.5 L245.8,118.3 L246.5,118.1 L247.2,117.9 L247.9,117.7 L248.6,117.5 L249.3,117.4 L250.0,117.2 L250.7,117.0 L251.4,116.8 L252.1,116.5 L252.8,116.3 L253.5,116.1 L254.2,115.9 L254.9,115.7 L255.6,115.4 L256.3,115.2 L257.0,115.0 L257.7,114.8 L258.4,114.5 L259.1,114.3 L259.8,114.1 L260.5,113.9 L261.2,113.7 L261.9,113.5 L262.6,113.2 L263.3,113.0 L264.0,112.8 L264.7,112.6" stroke="#55559c" stroke-width="1.0"/>
<path d="M48.4,189.5 L49.1,189.1 L49.8,188.7 L50.5,188.3 L51.2,187.8 L51.9,187.3 L52.6,186.7 L53.3,186.0 L54.0,185.3 L54.7,184.6 L55.4,183.8 L56.1,183.0 L56.8,182.1 L57.5,181.2 L58.2,180.1 L58.9,178.9 L59.6,177.4 L60.3,175.5 L61.0,172.5 L61.7,168.6 L62.4,164.7 L63.1,161.2 L63.8,157.8 L64.5,154.5 L65.2,151.2 L65.9,147.9 L66.6,144.4 L67.3,140.5 L68.0,136.5 L68.7,132.2 L69.4,127.7 L70.1,123.1 L70.8,118.8 L71.5,114.8 L72.2,111.0 L72.9,107.7 L73.6,104.8 L74.3,102.4 L75.0,100.6 L75.7,99.6 L76.4,99.4 L77.1,100.1 L77.8,101.2 L78.5,102.4 L79.2,103.8 L79.9,105.3 L80.6,106.9 L81.3,108.6 L82.0,110.3 L82.7,112.2 L83.4,114.2 L84.1,116.1 L84.8,117.7 L85.5,119.1 L86.2,120.4 L86.9,121.7 L87.6,122.9 L88.3,124.1 L89.0,125.3 L89.7,126.5 L90.4,127.6 L91.1,128.6 L91.8,129.6 L92.5,130.2 L93.2,130.6 L93.9,130.6 L94.6,130.3 L95.3,130.0 L96.0,129.6 L96.7,129.2 L97.4,128.8 L98.1,128.5 L98.8,128.0 L99.5,127.6 L100.2,127.1 L100.9,126.6 L101.6,126.1 L102.3,125.5 L103.0,125.0 L103.7,124.4 L104.4,123.7 L105.1,123.1 L105.8,122.4 L106.5,121.7 L107.2,120.9 L107.9,120.1 L108.6,119.2 L109.3,118.2 L110.0,117.1 L110.7,115.9 L111.4,114.5 L112.1,112.9 L112.8,111.0 L113.5,108.8 L114.2,106.6 L114.9,104.4 L115.6,102.3 L116.3,100.2 L117.0,97.9 L117.7,95.4 L118.4,92.5 L119.1,89.1 L119.8,85.3 L120.5,81.5 L121.2,77.8 L121.9,74.2 L122.6,70.7 L123.3,68.1 L124.0,66.1 L124.7,64.4 L125.4,62.7 L126.1,61.0 L126.8,57.7 L127.5,54.0 L128.2,51.0 L128.9,48.9 L129.6,47.6 L130.3,46.4 L131.0,45.6 L131.7,45.1 L132.4,45.0 L133.1,45.5 L133.8,46.3 L134.5,47.3 L135.2,48.6 L135.9,50.8 L136.6,54.5 L137.3,58.1 L138.0,62.1 L138.7,66.3 L139.4,70.0 L140.1,73.1 L140.8,76.0 L141.5,79.1 L142.2,82.3 L142.9,85.9 L143.6,89.9 L144.3,94.7 L145.0,100.3 L145.7,104.6 L146.4,108.1 L147.1,110.5 L147.8,112.3 L148.5,113.8 L149.2,115.1 L149.9,116.3 L150.6,117.4 L151.3,118.3 L152.0,119.1 L152.7,119.7 L153.4,120.3 L154.1,120.8 L154.8,121.1 L155.5,121.1 L156.2,120.9 L156.9,120.3 L157.6,119.5 L158.3,118.7 L159.0,117.8 L159.7,117.0 L160.4,116.3 L161.1,115.7 L161.8,115.1 L162.5,114.5 L163.2,114.0 L163.9,113.4 L164.6,112.9 L165.3,112.4 L166.0,111.9 L166.7,111.4 L167.4,111.0 L168.1,110.5 L168.8,110.1 L169.5,109.7 L170.2,109.3 L170.9,108.9 L171.6,108.5 L172.3,108.2 L173.0,107.8 L173.7,107.5 L174.4,107.1 L175.1,106.8 L175.8,106.4 L176.5,106.0 L177.2,105.6 L177.9,105.2 L178.6,104.8 L179.3,104.3 L180.0,103.9 L180.7,103.5 L181.4,103.1 L182.1,102.6 L182.8,102.2 L183.5,101.7 L184.2,101.2 L184.9,100.5 L185.6,99.8 L186.3,99.0 L187.0,98.1 L187.7,97.2 L188.4,96.3 L189.1,95.4 L189.8,94.7 L190.5,94.0 L191.2,93.3 L191.9,92.7 L192.6,92.1 L193.3,91.6 L194.0,91.0 L194.7,90.6 L195.4,90.1 L196.1,89.6 L196.8,89.2 L197.5,88.8 L198.2,88.5 L198.9,88.2 L199.6,88.0 L200.3,87.9 L201.0,88.0 L201.7,88.1 L202.4,88.3 L203.1,88.5 L203.8,88.8 L204.5,89.1 L205.2,89.4 L205.9,89.8 L206.6,90.1 L207.3,90.5 L208.0,90.9 L208.7,91.3 L209.4,91.8 L210.1,92.3 L210.8,92.9 L211.5,93.6 L212.2,94.3 L212.9,95.0 L213.6,95.7 L214.3,96.4 L215.0,97.1 L215.7,97.7 L216.4,98.3 L217.1,99.0 L217.8,99.6 L218.5,100.2 L219.2,100.7 L219.9,101.3 L220.6,101.9 L221.3,102.4 L222.0,103.0 L222.7,103.5 L223.4,104.0 L224.1,104.5 L224.8,105.1 L225.5,105.6 L226.2,106.1 L226.9,106.6 L227.6,107.1 L228.3,107.6 L229.0,108.1 L229.7,108.5 L230.4,108.9 L231.1,109.3 L231.8,109.7 L232.5,110.0 L233.2,110.3 L233.9,110.5 L234.6,110.7 L235.3,110.9 L236.0,111.0 L236.7,111.1 L237.4,111.1 L238.1,111.0 L238.8,111.0 L239.5,110.9 L240.2,110.8 L240.9,110.7 L241.6,110.5 L242.3,110.4 L243.0,110.3 L243.7,110.1 L244.4,109.9 L245.1,109.8 L245.8,109.6 L246.5,109.4 L247.2,109.3 L247.9,109.1 L248.6,108.9 L249.3,108.7 L250.0,108.6 L250.7,108.4 L251.4,108.2 L252.1,108.0 L252.8,107.8 L253.5,107.5 L254.2,107.3 L254.9,107.1 L255.6,106.9 L256.3,106.6 L257.0,106.4 L257.7,106.2 L258.4,106.0 L259.1,105.8 L259.8,105.6 L260.5,105.3 L261.2,105.1 L261.9,104.9 L262.6,104.7 L263.3,104.5 L264.0,104.3 L264.7,104.1" stroke="#a8aa70" stroke-width="1.0"/>
<path d="M48.40,184.20 C49.03,183.80 50.98,182.78 52.20,181.80 C53.42,180.82 54.67,179.45 55.70,178.30 C56.73,177.15 57.60,176.28 58.40,174.90 C59.20,173.52 59.85,172.48 60.50,170.00 C61.15,167.52 61.67,163.33 62.30,160.00 C62.93,156.67 63.62,153.33 64.30,150.00 C64.98,146.67 65.70,143.67 66.40,140.00 C67.10,136.33 67.82,132.17 68.50,128.00 C69.18,123.83 69.83,119.00 70.50,115.00 C71.17,111.00 71.87,107.00 72.50,104.00 C73.13,101.00 73.73,98.67 74.30,97.00 C74.87,95.33 75.35,94.25 75.90,94.00 C76.45,93.75 76.92,94.45 77.60,95.50 C78.28,96.55 79.22,98.58 80.00,100.30 C80.78,102.02 81.53,103.85 82.30,105.80 C83.07,107.75 83.65,109.97 84.60,112.00 C85.55,114.03 86.90,116.23 88.00,118.00 C89.10,119.77 90.28,121.52 91.20,122.60 C92.12,123.68 92.65,124.38 93.50,124.50 C94.35,124.62 95.25,123.85 96.30,123.30 C97.35,122.75 98.53,122.12 99.80,121.20 C101.07,120.28 102.75,118.83 103.90,117.80 C105.05,116.77 105.88,115.92 106.70,115.00 C107.52,114.08 107.95,113.63 108.80,112.30 C109.65,110.97 110.85,109.22 111.80,107.00 C112.75,104.78 113.67,101.42 114.50,99.00 C115.33,96.58 116.13,94.67 116.80,92.50 C117.47,90.33 117.97,88.42 118.50,86.00 C119.03,83.58 119.50,80.67 120.00,78.00 C120.50,75.33 121.00,72.50 121.50,70.00 C122.00,67.50 122.45,64.92 123.00,63.00 C123.55,61.08 124.25,59.80 124.80,58.50 C125.35,57.20 125.88,56.67 126.30,55.20 C126.72,53.73 126.85,51.65 127.30,49.70 C127.75,47.75 128.20,45.17 129.00,43.50 C129.80,41.83 131.07,39.70 132.10,39.70 C133.13,39.70 134.45,41.83 135.20,43.50 C135.95,45.17 136.18,47.62 136.60,49.70 C137.02,51.78 137.27,53.45 137.70,56.00 C138.13,58.55 138.65,62.17 139.20,65.00 C139.75,67.83 140.43,70.50 141.00,73.00 C141.57,75.50 142.10,77.50 142.60,80.00 C143.10,82.50 143.55,85.00 144.00,88.00 C144.45,91.00 144.80,95.00 145.30,98.00 C145.80,101.00 146.22,103.67 147.00,106.00 C147.78,108.33 149.00,110.42 150.00,112.00 C151.00,113.58 152.00,114.75 153.00,115.50 C154.00,116.25 154.83,117.08 156.00,116.50 C157.17,115.92 158.50,113.42 160.00,112.00 C161.50,110.58 163.33,109.17 165.00,108.00 C166.67,106.83 168.33,105.92 170.00,105.00 C171.67,104.08 173.33,103.42 175.00,102.50 C176.67,101.58 178.33,100.58 180.00,99.50 C181.67,98.42 183.33,97.58 185.00,96.00 C186.67,94.42 188.33,91.67 190.00,90.00 C191.67,88.33 193.33,87.08 195.00,86.00 C196.67,84.92 198.33,83.67 200.00,83.50 C201.67,83.33 203.33,84.25 205.00,85.00 C206.67,85.75 208.33,86.67 210.00,88.00 C211.67,89.33 213.33,91.42 215.00,93.00 C216.67,94.58 218.33,96.08 220.00,97.50 C221.67,98.92 223.33,100.22 225.00,101.50 C226.67,102.78 228.33,104.22 230.00,105.20 C231.67,106.18 233.33,107.05 235.00,107.40 C236.67,107.75 237.50,107.70 240.00,107.30 C242.50,106.90 247.00,105.80 250.00,105.00 C253.00,104.20 255.50,103.27 258.00,102.50 C260.50,101.73 263.83,100.75 265.00,100.40" stroke="#9c58bc" stroke-width="1.0"/>
<path d="M48.40,174.60 C49.15,174.30 51.68,173.57 52.90,172.80 C54.12,172.03 54.95,170.80 55.70,170.00 C56.45,169.20 56.85,169.00 57.40,168.00 C57.95,167.00 58.53,165.33 59.00,164.00 C59.47,162.67 59.75,161.50 60.20,160.00 C60.65,158.50 61.23,156.67 61.70,155.00 C62.17,153.33 62.62,151.67 63.00,150.00 C63.38,148.33 63.67,146.67 64.00,145.00 C64.33,143.33 64.58,142.00 65.00,140.00 C65.42,138.00 66.00,135.50 66.50,133.00 C67.00,130.50 67.52,128.00 68.00,125.00 C68.48,122.00 68.90,118.33 69.40,115.00 C69.90,111.67 70.48,108.33 71.00,105.00 C71.52,101.67 72.00,98.17 72.50,95.00 C73.00,91.83 73.58,88.33 74.00,86.00 C74.42,83.67 74.70,82.37 75.00,81.00 C75.30,79.63 75.42,77.47 75.80,77.80 C76.18,78.13 76.80,80.97 77.30,83.00 C77.80,85.03 78.23,87.75 78.80,90.00 C79.37,92.25 79.92,94.67 80.70,96.50 C81.48,98.33 82.68,99.83 83.50,101.00 C84.32,102.17 85.10,102.70 85.60,103.50 C86.10,104.30 86.05,104.97 86.50,105.80 C86.95,106.63 87.78,107.30 88.30,108.50 C88.82,109.70 89.07,111.33 89.60,113.00 C90.13,114.67 90.97,117.23 91.50,118.50 C92.03,119.77 92.25,121.02 92.80,120.60 C93.35,120.18 94.27,117.77 94.80,116.00 C95.33,114.23 95.67,111.25 96.00,110.00 C96.33,108.75 96.47,108.53 96.80,108.50 C97.13,108.47 97.65,109.17 98.00,109.80 C98.35,110.43 98.52,111.43 98.90,112.30 C99.28,113.17 99.83,114.32 100.30,115.00 C100.77,115.68 101.25,116.22 101.70,116.40 C102.15,116.58 102.43,116.45 103.00,116.10 C103.57,115.75 104.40,114.93 105.10,114.30 C105.80,113.67 106.52,112.87 107.20,112.30 C107.88,111.73 108.52,111.65 109.20,110.90 C109.88,110.15 110.50,109.90 111.30,107.80 C112.10,105.70 113.15,100.68 114.00,98.30 C114.85,95.92 115.77,95.22 116.40,93.50 C117.03,91.78 117.30,89.92 117.80,88.00 C118.30,86.08 118.90,84.95 119.40,82.00 C119.90,79.05 120.38,73.63 120.80,70.30 C121.22,66.97 121.70,64.05 121.90,62.00 C122.10,59.95 121.90,59.02 122.00,58.00 C122.10,56.98 122.18,56.58 122.50,55.90 C122.82,55.22 123.38,54.58 123.90,53.90 C124.42,53.22 125.27,52.73 125.60,51.80 C125.93,50.87 125.73,49.80 125.90,48.30 C126.07,46.80 126.30,44.52 126.60,42.80 C126.90,41.08 127.37,39.27 127.70,38.00 C128.03,36.73 128.17,35.78 128.60,35.20 C129.03,34.62 129.72,34.90 130.30,34.50 C130.88,34.10 131.63,33.72 132.10,32.80 C132.57,31.88 132.70,30.22 133.10,29.00 C133.50,27.78 134.10,25.50 134.50,25.50 C134.90,25.50 135.22,27.62 135.50,29.00 C135.78,30.38 135.97,32.43 136.20,33.80 C136.43,35.17 136.55,36.40 136.90,37.20 C137.25,38.00 137.88,37.55 138.30,38.60 C138.72,39.65 138.98,41.30 139.40,43.50 C139.82,45.70 140.45,49.38 140.80,51.80 C141.15,54.22 141.25,55.75 141.50,58.00 C141.75,60.25 141.93,62.47 142.30,65.30 C142.67,68.13 143.13,71.17 143.70,75.00 C144.27,78.83 145.15,84.47 145.70,88.30 C146.25,92.13 146.53,95.13 147.00,98.00 C147.47,100.87 148.00,103.47 148.50,105.50 C149.00,107.53 149.38,108.83 150.00,110.20 C150.62,111.57 151.47,112.80 152.20,113.70 C152.93,114.60 153.67,115.12 154.40,115.60 C155.13,116.08 155.87,116.65 156.60,116.60 C157.33,116.55 158.07,116.07 158.80,115.30 C159.53,114.53 160.35,113.30 161.00,112.00 C161.65,110.70 162.22,109.17 162.70,107.50 C163.18,105.83 163.43,103.78 163.90,102.00 C164.37,100.22 164.97,97.97 165.50,96.80 C166.03,95.63 166.47,95.42 167.10,95.00 C167.73,94.58 168.48,94.70 169.30,94.30 C170.12,93.90 171.22,93.20 172.00,92.60 C172.78,92.00 173.32,90.88 174.00,90.70 C174.68,90.52 175.28,91.13 176.10,91.50 C176.92,91.87 177.97,92.62 178.90,92.90 C179.83,93.18 180.68,93.32 181.70,93.20 C182.72,93.08 184.18,92.90 185.00,92.20 C185.82,91.50 186.10,90.78 186.60,89.00 C187.10,87.22 187.43,83.37 188.00,81.50 C188.57,79.63 189.33,78.42 190.00,77.80 C190.67,77.18 191.33,78.35 192.00,77.80 C192.67,77.25 193.17,75.63 194.00,74.50 C194.83,73.37 196.00,72.15 197.00,71.00 C198.00,69.85 198.67,67.43 200.00,67.60 C201.33,67.77 203.33,70.77 205.00,72.00 C206.67,73.23 208.33,73.92 210.00,75.00 C211.67,76.08 213.50,77.33 215.00,78.50 C216.50,79.67 217.83,80.67 219.00,82.00 C220.17,83.33 220.83,84.92 222.00,86.50 C223.17,88.08 224.67,90.17 226.00,91.50 C227.33,92.83 228.67,93.92 230.00,94.50 C231.33,95.08 232.83,95.12 234.00,95.00 C235.17,94.88 236.00,94.25 237.00,93.80 C238.00,93.35 238.50,92.82 240.00,92.30 C241.50,91.78 244.33,91.18 246.00,90.70 C247.67,90.22 248.83,89.75 250.00,89.40 C251.17,89.05 252.00,89.02 253.00,88.60 C254.00,88.18 255.00,87.48 256.00,86.90 C257.00,86.32 258.00,85.53 259.00,85.10 C260.00,84.67 261.00,84.72 262.00,84.30 C263.00,83.88 264.50,82.88 265.00,82.60" stroke="#a46a7c" stroke-width="1.0"/>
</g>
<circle cx="126.4" cy="64.4" r="0.85" fill="#3a3a98"/>
<circle cx="126.6" cy="78.6" r="0.85" fill="#d050e0"/>
<circle cx="126.6" cy="83.2" r="0.85" fill="#50c8e0"/>
<circle cx="126.6" cy="88.4" r="0.85" fill="#3a3ae8"/>
<circle cx="126.7" cy="92.6" r="0.85" fill="#40c040"/>
<circle cx="126.7" cy="97.3" r="0.85" fill="#e05050"/>
<circle cx="126.6" cy="102.3" r="0.85" fill="#2a2a2a"/>
<g stroke="#222" stroke-width="1.3" fill="none">
<line x1="38.50" y1="4.58" x2="38.50" y2="250.95"/>
<line x1="37.85" y1="250.30" x2="343.95" y2="250.30"/>
<line x1="35.70" y1="250.33" x2="38.50" y2="250.33"/>
<line x1="33.20" y1="240.50" x2="38.50" y2="240.50"/>
<line x1="35.70" y1="230.67" x2="38.50" y2="230.67"/>
<line x1="33.20" y1="220.84" x2="38.50" y2="220.84"/>
<line x1="35.70" y1="211.01" x2="38.50" y2="211.01"/>
<line x1="33.20" y1="201.18" x2="38.50" y2="201.18"/>
<line x1="35.70" y1="191.35" x2="38.50" y2="191.35"/>
<line x1="33.20" y1="181.52" x2="38.50" y2="181.52"/>
<line x1="35.70" y1="171.69" x2="38.50" y2="171.69"/>
<line x1="33.20" y1="161.86" x2="38.50" y2="161.86"/>
<line x1="35.70" y1="152.03" x2="38.50" y2="152.03"/>
<line x1="33.20" y1="142.20" x2="38.50" y2="142.20"/>
<line x1="35.70" y1="132.37" x2="38.50" y2="132.37"/>
<line x1="33.20" y1="122.54" x2="38.50" y2="122.54"/>
<line x1="35.70" y1="112.71" x2="38.50" y2="112.71"/>
<line x1="33.20" y1="102.88" x2="38.50" y2="102.88"/>
<line x1="35.70" y1="93.05" x2="38.50" y2="93.05"/>
<line x1="33.20" y1="83.22" x2="38.50" y2="83.22"/>
<line x1="35.70" y1="73.39" x2="38.50" y2="73.39"/>
<line x1="33.20" y1="63.56" x2="38.50" y2="63.56"/>
<line x1="35.70" y1="53.73" x2="38.50" y2="53.73"/>
<line x1="33.20" y1="43.90" x2="38.50" y2="43.90"/>
<line x1="35.70" y1="34.07" x2="38.50" y2="34.07"/>
<line x1="33.20" y1="24.24" x2="38.50" y2="24.24"/>
<line x1="35.70" y1="14.41" x2="38.50" y2="14.41"/>
<line x1="33.20" y1="4.58" x2="38.50" y2="4.58"/>
<line x1="38.50" y1="250.30" x2="38.50" y2="255.30"/>
<line x1="58.85" y1="250.30" x2="58.85" y2="252.90"/>
<line x1="79.20" y1="250.30" x2="79.20" y2="255.30"/>
<line x1="99.55" y1="250.30" x2="99.55" y2="252.90"/>
<line x1="119.90" y1="250.30" x2="119.90" y2="255.30"/>
<line x1="140.25" y1="250.30" x2="140.25" y2="252.90"/>
<line x1="160.60" y1="250.30" x2="160.60" y2="255.30"/>
<line x1="180.95" y1="250.30" x2="180.95" y2="252.90"/>
<line x1="201.30" y1="250.30" x2="201.30" y2="255.30"/>
<line x1="221.65" y1="250.30" x2="221.65" y2="252.90"/>
<line x1="242.00" y1="250.30" x2="242.00" y2="255.30"/>
<line x1="262.35" y1="250.30" x2="262.35" y2="252.90"/>
<line x1="282.70" y1="250.30" x2="282.70" y2="255.30"/>
<line x1="303.05" y1="250.30" x2="303.05" y2="252.90"/>
<line x1="323.40" y1="250.30" x2="323.40" y2="255.30"/>
<line x1="343.75" y1="250.30" x2="343.75" y2="252.90"/>
</g>
<g font-family="'Liberation Serif','Times New Roman',serif" fill="#111" stroke="#111" stroke-width="0.15">
<text x="31.6" y="243.40" font-size="11" text-anchor="end">0.0</text>
<text x="31.6" y="223.74" font-size="11" text-anchor="end">0.2</text>
<text x="31.6" y="204.08" font-size="11" text-anchor="end">0.4</text>
<text x="31.6" y="184.42" font-size="11" text-anchor="end">0.6</text>
<text x="31.6" y="164.76" font-size="11" text-anchor="end">0.8</text>
<text x="31.6" y="145.10" font-size="11" text-anchor="end">1.0</text>
<text x="31.6" y="125.44" font-size="11" text-anchor="end">1.2</text>
<text x="31.6" y="105.78" font-size="11" text-anchor="end">1.4</text>
<text x="31.6" y="86.12" font-size="11" text-anchor="end">1.6</text>
<text x="31.6" y="66.46" font-size="11" text-anchor="end">1.8</text>
<text x="31.6" y="46.80" font-size="11" text-anchor="end">2.0</text>
<text x="31.6" y="27.14" font-size="11" text-anchor="end">2.2</text>
<text x="31.6" y="7.48" font-size="11" text-anchor="end">2.4</text>
<text x="38.60" y="266" font-size="11" text-anchor="middle">0</text>
<text x="79.30" y="266" font-size="11" text-anchor="middle">2</text>
<text x="120.00" y="266" font-size="11" text-anchor="middle">4</text>
<text x="160.70" y="266" font-size="11" text-anchor="middle">6</text>
<text x="201.40" y="266" font-size="11" text-anchor="middle">8</text>
<text x="243.00" y="266" font-size="11" text-anchor="middle">10</text>
<text x="283.70" y="266" font-size="11" text-anchor="middle">12</text>
<text x="324.40" y="266" font-size="11" text-anchor="middle">14</text>
<text transform="translate(9.9,174.4) rotate(-90) scale(1.018,1.17)" font-size="13" stroke="#111" stroke-width="0.35">S(Q) (displaced)</text>
<text transform="translate(177.6,287.6) scale(1,1.12)" font-size="13" stroke="#111" stroke-width="0.2">Q/&#197;</text>
<text x="198.6" y="282.3" font-size="8">-1</text>
<text transform="translate(52.6,147.9) rotate(-90) scale(1.007,1.14)" font-size="13" stroke="#111" stroke-width="0.35">Decreasing temperature</text>
</g>
<line x1="59" y1="134.8" x2="59" y2="46" stroke="#9a9a9a" stroke-width="1.2"/>
<path d="M57.9,47.6 L59,42.8 L60.1,47.6 Z" fill="#1a1a1a" stroke="#1a1a1a" stroke-width="0.4"/>
<rect x="264.8" y="29.2" width="84.5" height="199.9" fill="#fff" stroke="#2a2a2a" stroke-width="1.4"/>
<g font-family="'Liberation Serif','Times New Roman',serif" font-size="13" fill="#111" stroke="#111" stroke-width="0.25">
<line x1="272.5" y1="56.20" x2="303.5" y2="56.20" stroke="#606060" stroke-width="1.2"/>
<text transform="translate(306.9,60.60) scale(1,1.16)">1950 C</text>
<line x1="272.5" y1="70.71" x2="303.5" y2="70.71" stroke="#eb9a8e" stroke-width="1.2"/>
<text transform="translate(306.9,75.11) scale(1,1.16)">1900 C</text>
<line x1="272.5" y1="85.22" x2="303.5" y2="85.22" stroke="#84da84" stroke-width="1.2"/>
<text transform="translate(306.9,89.62) scale(1,1.16)">1850 C</text>
<line x1="272.5" y1="99.73" x2="303.5" y2="99.73" stroke="#7272d2" stroke-width="1.2"/>
<text transform="translate(306.9,104.13) scale(1,1.16)">1800 C</text>
<line x1="272.5" y1="114.24" x2="303.5" y2="114.24" stroke="#7cdce6" stroke-width="1.2"/>
<text transform="translate(306.9,118.64) scale(1,1.16)">1750 C</text>
<line x1="272.5" y1="128.75" x2="303.5" y2="128.75" stroke="#dc90e6" stroke-width="1.2"/>
<text transform="translate(306.9,133.15) scale(1,1.16)">1700 C</text>
<line x1="272.5" y1="143.26" x2="303.5" y2="143.26" stroke="#f2ec90" stroke-width="1.2"/>
<text transform="translate(306.9,147.66) scale(1,1.16)">1650 C</text>
<line x1="272.5" y1="157.77" x2="303.5" y2="157.77" stroke="#c0c2a0" stroke-width="1.2"/>
<text transform="translate(306.9,162.17) scale(1,1.16)">1550 C</text>
<line x1="272.5" y1="172.28" x2="303.5" y2="172.28" stroke="#7272aa" stroke-width="1.2"/>
<text transform="translate(306.9,176.68) scale(1,1.16)">1500 C</text>
<line x1="272.5" y1="186.79" x2="303.5" y2="186.79" stroke="#b282d2" stroke-width="1.2"/>
<text transform="translate(306.9,191.19) scale(1,1.16)">1450 C</text>
<line x1="272.5" y1="201.30" x2="303.5" y2="201.30" stroke="#a27282" stroke-width="1.2"/>
<text transform="translate(306.9,205.70) scale(1,1.16)">Glass</text>
</g>
</svg>
</body></html>
